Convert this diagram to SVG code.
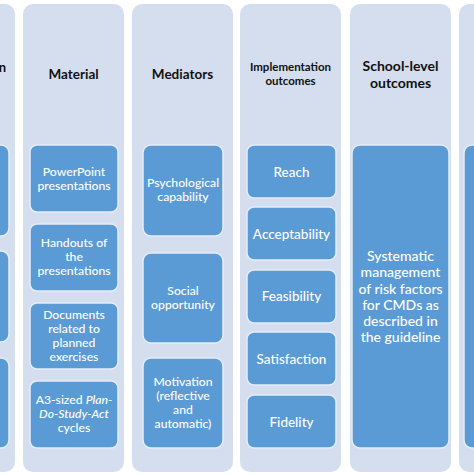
<svg xmlns="http://www.w3.org/2000/svg" width="474" height="474" viewBox="0 0 474 474">
<style>
.col{fill:#d5deee}
.box{fill:#5b9bd5;stroke:#e3edf8;stroke-width:1.5}
.t{font-family:Lato,"Open Sans","Liberation Sans",sans-serif;font-weight:bold;fill:#111;text-anchor:middle}
.w{font-family:Lato,"Open Sans","Liberation Sans",sans-serif;fill:#fff;text-anchor:middle;font-weight:500}
</style>
<rect width="474" height="474" fill="#fff"/>
<g id="col0">
<rect class="col" x="-90" y="4" width="105" height="468" rx="10"/>
<text class="t" x="6" y="72" font-size="13" style="text-anchor:end">n</text>
<rect class="box" x="-80" y="145" width="89" height="91" rx="8"/>
<rect class="box" x="-80" y="251" width="89" height="91" rx="8"/>
<rect class="box" x="-80" y="358" width="89" height="90" rx="8"/>
</g>
<g id="material">
<rect class="col" x="23" y="4" width="101" height="468" rx="10"/>
<text class="t" x="73.5" y="79" font-size="13.5">Material</text>
<g id="m1"><rect class="box" x="30" y="145" width="88" height="67" rx="7"/>
<text class="w" x="74" y="176" font-size="12.2">PowerPoint</text>
<text class="w" x="74" y="189.5" font-size="12.2">presentations</text></g>
<g id="m2"><rect class="box" x="30" y="224" width="88" height="67" rx="7"/>
<text class="w" x="74" y="247" font-size="12.2">Handouts of</text>
<text class="w" x="74" y="261" font-size="12.2">the</text>
<text class="w" x="74" y="275" font-size="12.2">presentations</text></g>
<g id="m3"><rect class="box" x="30" y="303" width="88" height="66" rx="7"/>
<text class="w" x="74" y="319" font-size="12.2">Documents</text>
<text class="w" x="74" y="333" font-size="12.2">related to</text>
<text class="w" x="74" y="347" font-size="12.2">planned</text>
<text class="w" x="74" y="361" font-size="12.2">exercises</text></g>
<g id="m4"><rect class="box" x="30" y="381" width="88" height="67" rx="7"/>
<text class="w" x="74" y="404" font-size="12.2">A3-sized <tspan font-style="italic">Plan-</tspan></text>
<text class="w" x="74" y="418" font-size="12.2" font-style="italic">Do-Study-Act</text>
<text class="w" x="74" y="432" font-size="12.2">cycles</text></g>
</g>
<g id="mediators">
<rect class="col" x="132" y="4" width="101" height="468" rx="10"/>
<text class="t" x="182.5" y="79" font-size="13.5">Mediators</text>
<g id="d1"><rect class="box" x="143" y="145" width="80" height="91" rx="8"/>
<text class="w" x="183" y="187" font-size="12.2">Psychological</text>
<text class="w" x="183" y="201" font-size="12.2">capability</text></g>
<g id="d2"><rect class="box" x="143" y="253" width="80" height="90" rx="8"/>
<text class="w" x="183" y="294.5" font-size="12.2">Social</text>
<text class="w" x="183" y="309" font-size="12.2">opportunity</text></g>
<g id="d3"><rect class="box" x="143" y="358" width="80" height="90" rx="8"/>
<text class="w" x="183" y="386" font-size="12.2">Motivation</text>
<text class="w" x="183" y="400" font-size="12.2">(reflective</text>
<text class="w" x="183" y="414" font-size="12.2">and</text>
<text class="w" x="183" y="428" font-size="12.2">automatic)</text></g>
</g>
<g id="implementation">
<rect class="col" x="240" y="4" width="101" height="468" rx="10"/>
<text class="t" x="290.5" y="71" font-size="11.5">Implementation</text>
<text class="t" x="290.5" y="85" font-size="11.5">outcomes</text>
<g id="i1"><rect class="box" x="247" y="145" width="89" height="53" rx="7"/>
<text class="w" x="291.5" y="176.5" font-size="13.5">Reach</text></g>
<g id="i2"><rect class="box" x="247" y="207" width="89" height="53" rx="7"/>
<text class="w" x="291.5" y="238.5" font-size="13.5">Acceptability</text></g>
<g id="i3"><rect class="box" x="247" y="270" width="89" height="53" rx="7"/>
<text class="w" x="291.5" y="300.5" font-size="13.5">Feasibility</text></g>
<g id="i4"><rect class="box" x="247" y="332" width="89" height="53" rx="7"/>
<text class="w" x="291.5" y="363.5" font-size="13.5">Satisfaction</text></g>
<g id="i5"><rect class="box" x="247" y="395" width="89" height="53" rx="7"/>
<text class="w" x="291.5" y="426.5" font-size="13.5">Fidelity</text></g>
</g>
<g id="school">
<rect class="col" x="350" y="4" width="101" height="468" rx="10"/>
<text class="t" x="400.5" y="71" font-size="14">School-level</text>
<text class="t" x="400.5" y="88" font-size="14">outcomes</text>
<g id="s1"><rect class="box" x="352" y="145" width="97" height="303" rx="8"/>
<text class="w" x="400.5" y="261" font-size="14">Systematic</text>
<text class="w" x="400.5" y="277" font-size="14">management</text>
<text class="w" x="400.5" y="293.5" font-size="14">of risk factors</text>
<text class="w" x="400.5" y="309.5" font-size="14">for CMDs as</text>
<text class="w" x="400.5" y="326" font-size="14">described in</text>
<text class="w" x="400.5" y="342" font-size="14">the guideline</text></g>
</g>
<g id="col5">
<rect class="col" x="459" y="4" width="101" height="468" rx="10"/>
<rect class="box" x="464" y="145" width="89" height="303" rx="8"/>
</g>
<g id="connectors"></g>
</svg>
